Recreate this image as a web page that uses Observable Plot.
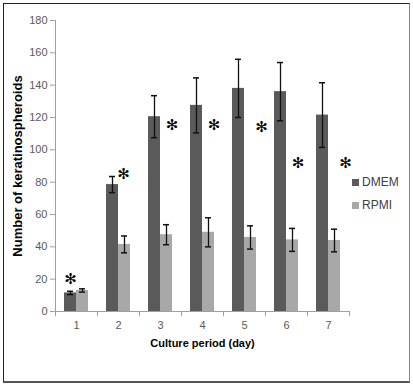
<!DOCTYPE html>
<html>
<head>
<meta charset="utf-8">
<script src="https://cdn.jsdelivr.net/npm/d3@7"></script>
<script src="https://cdn.jsdelivr.net/npm/@observablehq/plot@0.6"></script>
<style>
  html, body { margin: 0; padding: 0; background: #fff; }
  #wrap { position: relative; width: 413px; height: 388px; overflow: hidden; font-family: "Liberation Sans", Arial, sans-serif; }
  #border { position: absolute; left: 3px; top: 3px; width: 405px; height: 377px; border: 1px solid #222; border-bottom: 2px solid #555; border-right: 1px solid #888; }
  #chart { position: absolute; left: 0; top: 0; }
  .leg { position: absolute; font-size: 12px; color: #404040; display: flex; align-items: center; }
  .leg span.sw { display: inline-block; width: 7px; height: 7px; margin-right: 3px; }
</style>
</head>
<body>
<div id="wrap"><div id="border"></div><div id="chart"></div></div>
<script>
const days = [1, 2, 3, 4, 5, 6, 7];
const series = ["DMEM", "RPMI"];
const colors = ["#5a5a5a", "#a8a8a8"];
const dmemValues = [11.5, 78.5, 120.5, 127.5, 138, 136, 121.5];
const dmemErrors = [1, 5, 13, 17, 18, 18, 20];
const rpmiValues = [13, 41.5, 47.5, 49, 45.8, 44.3, 43.9];
const rpmiErrors = [1, 5.2, 6.2, 9, 7.2, 7.1, 7];
const yTicks = [0, 20, 40, 60, 80, 100, 120, 140, 160, 180];
const starDays = [1, 2, 3, 4, 5, 6, 7];
const starValues = [20, 85, 115, 115, 114, 91.5, 91.5];
const yLabel = "Number of keratinospheroids";
const xLabel = "Culture period (day)";

const dmem = days.map((d, i) => ({day: d, value: dmemValues[i], err: dmemErrors[i]}));
const rpmi = days.map((d, i) => ({day: d, value: rpmiValues[i], err: rpmiErrors[i]}));
const stars = starDays.map((d, i) => ({day: d, value: starValues[i]}));

const font = "Liberation Sans, Arial, sans-serif";
const errMarks = (data, dx, capL, capR) => [
  Plot.ruleX(data, {x: "day", y1: d => d.value - d.err, y2: d => d.value + d.err, dx, stroke: "#111", strokeWidth: 1.3}),
  Plot.tickY(data, {x: "day", y: d => d.value + d.err, insetLeft: capL, insetRight: capR, stroke: "#111", strokeWidth: 1.5}),
  Plot.tickY(data, {x: "day", y: d => d.value - d.err, insetLeft: capL, insetRight: capR, stroke: "#111", strokeWidth: 1.5})
];
const starMark = (sel, dx) => Plot.text(stars.filter(s => sel.includes(s.day)), {
  x: "day", y: "value", text: () => "✻", dx, fontSize: 15, fill: "#000", fontFamily: "DejaVu Sans", fontWeight: "bold"
});

const chart = Plot.plot({
  width: 413,
  height: 388,
  marginLeft: 55,
  marginRight: 64,
  marginTop: 20,
  marginBottom: 77,
  style: {fontFamily: font, background: "transparent"},
  x: {type: "band", domain: days, padding: 0},
  y: {domain: [0, 180]},
  marks: [
    Plot.barY(dmem, {x: "day", y: "value", fill: colors[0], insetLeft: 9, insetRight: 21}),
    Plot.barY(rpmi, {x: "day", y: "value", fill: colors[1], insetLeft: 21, insetRight: 9}),
    ...errMarks(dmem, -6, 12, 24),
    ...errMarks(rpmi, 6, 24, 12),
    Plot.ruleY([0], {stroke: "#a0a0a0"}),
    Plot.ruleX([days[0]], {x: d => d, dx: -21, y1: 0, y2: 180, stroke: "#a0a0a0"}),
    Plot.ruleX(days, {x: d => d, dx: -21, y1: 0, y2: -3.2, stroke: "#a0a0a0"}),
    Plot.ruleX([days[days.length - 1]], {x: d => d, dx: 21, y1: 0, y2: -3.2, stroke: "#a0a0a0"}),
    Plot.axisY({ticks: yTicks, tickSize: 5, tickPadding: 3, label: null, fontSize: 11, color: "#595959", stroke: "#a0a0a0"}),
    Plot.axisX({tickSize: 0, tickPadding: 10, label: null, fontSize: 11, color: "#595959"}),
    starMark([1], -6),
    starMark([2], 5),
    starMark([3, 4, 6], 11.5),
    starMark([5, 7], 17),
    Plot.text([yLabel], {frameAnchor: "left", textAnchor: "middle", lineAnchor: "middle", rotate: -90, dx: -38, fontSize: 13, fontWeight: "bold", fill: "#000", text: d => d}),
    Plot.text([xLabel], {frameAnchor: "bottom", textAnchor: "middle", lineAnchor: "middle", dy: 32, fontSize: 11, fontWeight: "bold", fill: "#000", text: d => d})
  ]
});
document.getElementById("chart").appendChild(chart);

const wrap = document.getElementById("wrap");
const legTops = [175, 198];
series.forEach((s, i) => {
  const el = document.createElement("div");
  el.className = "leg";
  el.style.left = "352px";
  el.style.top = legTops[i] + "px";
  el.innerHTML = `<span class="sw" style="background:${colors[i]}"></span>${s}`;
  wrap.appendChild(el);
});
</script>
</body>
</html>
